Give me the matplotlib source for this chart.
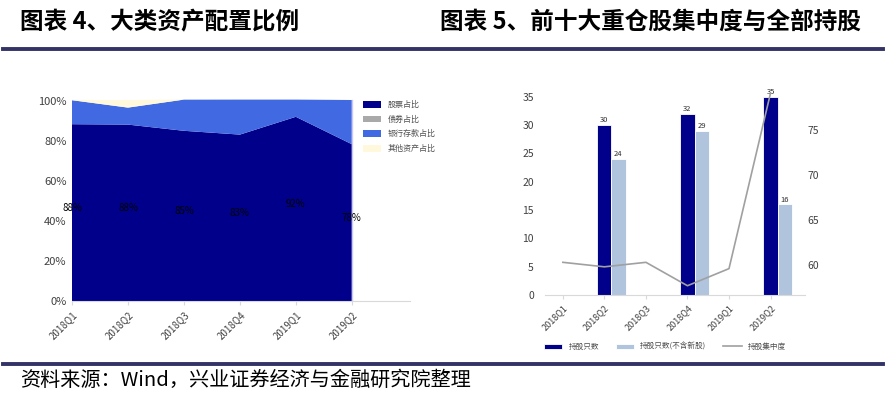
import matplotlib.pyplot as plt
import numpy as np

plt.rcParams['font.family'] = ['Noto Sans CJK SC', 'DejaVu Sans']

# left chart: asset allocation (%)
quarters = ['2018Q1', '2018Q2', '2018Q3', '2018Q4', '2019Q1', '2019Q2']
stock = [88.4, 88.2, 85.1, 83.2, 92.1, 78.4]
bond = [0, 0, 0, 0, 0, 0]
deposit = [12.0, 8.5, 15.6, 17.5, 8.6, 22.1]
other = [0.2, 3.8, 0.1, 0, 0, 0]
alloc_names = ['股票占比', '债券占比', '银行存款占比', '其他资产占比']

# right chart: holdings count and top-10 concentration
hold_pos = [1, 3, 5]
hold_all = [30, 32, 35]
hold_no_ipo = [24, 29, 16]
concentration = [60.3, 59.8, 60.3, 57.7, 59.6, 79.1]
right_names = ['持股只数', '持股只数(不含新股)', '持股集中度']

W, H = 886, 396
fig = plt.figure(figsize=(W / 100, H / 100), dpi=100)

def fx(px):
    return px / W

def fy(py):
    return 1 - py / H

# headers and rules
fig.text(fx(20), fy(22), '图表 4、大类资产配置比例', fontsize=17, fontweight='bold', va='center')
fig.text(fx(440), fy(22), '图表 5、前十大重仓股集中度与全部持股', fontsize=17, fontweight='bold', va='center')
fig.add_artist(plt.Line2D([fx(3), fx(883)], [fy(49), fy(49)], color='#333366', lw=2.8))
fig.add_artist(plt.Line2D([fx(3), fx(883)], [fy(364), fy(364)], color='#333366', lw=2.8))
fig.text(fx(20), fy(380), '资料来源：Wind，兴业证券经济与金融研究院整理', fontsize=14.5, va='center')

grey_txt = '#404040'

# ---------- left chart ----------
ax1 = fig.add_axes([fx(72), fy(301), fx(338), 204 / H])
x = np.arange(len(quarters))
ax1.stackplot(x, stock, bond, deposit, other,
              colors=['#00008B', '#A9A9A9', '#4169E1', '#FFF8DC'],
              labels=alloc_names, edgecolor='none')
ax1.plot([x[-1], x[-1]], [0, stock[-1] + deposit[-1]], color='#C8C8F0', lw=1)
for xi, v in zip(x, stock):
    ax1.text(xi, v / 2, '%.0f%%' % v, ha='center', va='bottom', fontsize=7, color='black')
ax1.set_xlim(0, 6.04)
ax1.set_ylim(0, 102)
ax1.set_yticks([0, 20, 40, 60, 80, 100])
ax1.set_yticklabels(['%d%%' % t for t in [0, 20, 40, 60, 80, 100]])
ax1.set_xticks(x)
ax1.set_xticklabels(quarters, rotation=45, ha='right', rotation_mode='anchor')
for s in ['top', 'right', 'left']:
    ax1.spines[s].set_visible(False)
ax1.spines['bottom'].set_color('#D9D9D9')
ax1.tick_params(axis='y', length=0, labelsize=8, colors=grey_txt, pad=4)
ax1.tick_params(axis='x', length=3, color='#D9D9D9', labelsize=7, colors=grey_txt, pad=3)
leg1 = ax1.legend(loc='upper left', bbox_to_anchor=(0.84, 1.02), frameon=False,
                  fontsize=5.8, handlelength=2.2, handleheight=0.9, labelspacing=0.7,
                  handletextpad=0.8)
for t in leg1.get_texts():
    t.set_color('#505050')

# ---------- right chart ----------
ax2 = fig.add_axes([fx(545), fy(295), fx(260), 204 / H])
w = 0.34
xs = np.array(hold_pos)
b1 = ax2.bar(xs, hold_all, width=w, color='#00008B', edgecolor='white', lw=0.6, label=right_names[0])
b2 = ax2.bar(xs + w, hold_no_ipo, width=w, color='#B0C4DE', edgecolor='white', lw=0.6, label=right_names[1])
for bars in (b1, b2):
    for r in bars:
        ax2.text(r.get_x() + r.get_width() / 2, r.get_height() + 0.1, '%d' % r.get_height(),
                 ha='center', va='bottom', fontsize=5.5, color='#303030')
ax2.set_xlim(-0.43, 5.83)
ax2.set_ylim(0, 36)
ax2.set_yticks(range(0, 40, 5))
ax2.set_xticks(np.arange(len(quarters)))
ax2.set_xticklabels(quarters, rotation=45, ha='right', rotation_mode='anchor')
for s in ['top', 'right', 'left']:
    ax2.spines[s].set_visible(False)
ax2.spines['bottom'].set_color('#D9D9D9')
ax2.tick_params(axis='y', length=0, labelsize=7.5, colors=grey_txt, pad=8)
ax2.tick_params(axis='x', length=3, color='#D9D9D9', labelsize=6.5, colors=grey_txt, pad=3)

ax3 = ax2.twinx()
ln, = ax3.plot(np.arange(len(quarters)), concentration, color='#A0A0A0', lw=1.2, label=right_names[2])
ax3.set_ylim(56.67, 79.33)
ax3.set_yticks([60, 65, 70, 75])
for s in ax3.spines.values():
    s.set_visible(False)
ax3.tick_params(axis='y', length=0, labelsize=7.5, colors=grey_txt, pad=2)

leg2 = ax2.legend(handles=[b1, b2, ln], loc='upper left', bbox_to_anchor=(-0.03, -0.2),
                  ncol=3, frameon=False, fontsize=5.5, handlelength=2.4, handleheight=0.6,
                  columnspacing=2.2, handletextpad=0.8)
for t in leg2.get_texts():
    t.set_color('#505050')

fig.savefig('out.png', dpi=100)
